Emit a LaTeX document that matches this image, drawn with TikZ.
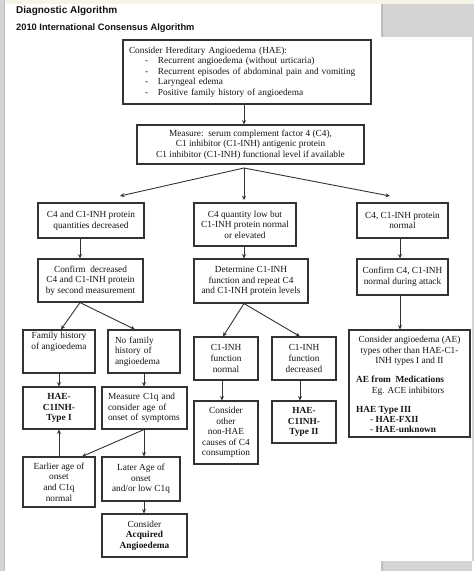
\documentclass[tikz,border=0pt]{standalone}
\usepackage{fontspec}
\setmainfont{Liberation Serif}
\newfontfamily\hdfont{Liberation Sans}
\usetikzlibrary{arrows.meta}
\definecolor{lnc}{HTML}{333333}
\definecolor{txc}{HTML}{141414}
\definecolor{frc}{HTML}{D4D4D4}
\definecolor{frd}{HTML}{BDBDBD}
\definecolor{crc}{HTML}{F6F4E6}
\begin{document}
\begin{tikzpicture}[x=1pt,y=-1pt,
  box/.style={draw=lnc, line width=1.1pt, inner sep=0pt, align=center, text=txc,
              font=\fontsize{9.3}{10.6}\selectfont},
  txt/.style={inner sep=0pt, text=txc, font=\fontsize{9.3}{10.6}\selectfont},
  arr/.style={draw=lnc, line width=0.9pt, -{Stealth[length=4.4pt,width=4pt]}},
  ttl/.style={anchor=base west, inner sep=0pt, text=txc}]
\useasboundingbox (0,0) rectangle (474,571);
% frame / background
\fill[white] (0,0) rectangle (474,571);
\fill[crc] (0,0) rectangle (474,3.5);
\fill[frc] (0,0) rectangle (5,571);
\fill[frd] (4,0) rectangle (5,571);
\fill[frc] (381,4) rectangle (474,37);
\fill[frd] (381,4) rectangle (382.5,37);
\fill[frc] (472,37) rectangle (474,561);
\fill[frc] (381,561) rectangle (472,571);
\fill[frd] (381,561) rectangle (382.5,571);
% titles
\node[ttl, font=\hdfont\bfseries\fontsize{10}{12}\selectfont] (t1) at (16,13.5) {Diagnostic Algorithm};
\node[ttl, font=\hdfont\bfseries\fontsize{9.3}{11}\selectfont] (t2) at (16,30.7) {2010 International Consensus Algorithm};
% top box
\node[box, minimum width=248pt, minimum height=64pt, text width=236pt, inner xsep=6pt, align=left] (hae) at (247,72)
 {Consider Hereditary Angioedema (HAE):\\
  \makebox[29pt][l]{\hspace*{16pt}-}Recurrent angioedema (without urticaria)\\
  \makebox[29pt][l]{\hspace*{16pt}-}Recurrent episodes of abdominal pain and vomiting\\
  \makebox[29pt][l]{\hspace*{16pt}-}Laryngeal edema\\
  \makebox[29pt][l]{\hspace*{16pt}-}Positive family history of angioedema};
\node[box, minimum width=227pt, minimum height=39pt] (meas) at (250.5,144.5)
 {Measure:\ \ serum complement factor 4 (C4),\\
  C1 inhibitor (C1-INH) antigenic protein\\
  C1 inhibitor (C1-INH) functional level if available};
% row 3
\node[box, minimum width=106pt, minimum height=35pt] (a1) at (91,220.5) {C4 and C1-INH protein\\ quantities decreased};
\node[box, minimum width=102pt, minimum height=43pt] (a2) at (245,224.5) {C4 quantity low but\\ C1-INH protein normal\\ or elevated};
\node[box, minimum width=91pt, minimum height=35pt] (a3) at (402.5,220.5) {C4, C1-INH protein\\ normal};
% row 4
\node[box, minimum width=105pt, minimum height=43pt] (b1) at (90.5,280.5) {Confirm\ \ decreased\\ C4 and C1-INH protein\\ by second measurement};
\node[box, minimum width=114pt, minimum height=44pt] (b2) at (251,281) {Determine C1-INH\\ function and repeat C4\\ and C1-INH protein levels};
\node[box, minimum width=91pt, minimum height=36pt] (b3) at (402.5,277) {Confirm C4, C1-INH\\ normal during attack};
% row 5
\node[box, minimum width=72pt, minimum height=43pt] (c1) at (59,351.5) {Family history\\ of angioedema\\[10.6pt]};
\node[box, minimum width=72pt, minimum height=43pt, text width=58pt, inner xsep=7pt, align=left] (c2) at (144,351.5) {No family\\ history of\\ angioedema};
\node[box, minimum width=64pt, minimum height=43pt] (c3) at (226,358.5) {C1-INH\\ function\\ normal};
\node[box, minimum width=64pt, minimum height=43pt] (c4) at (304,358.5) {C1-INH\\ function\\ decreased};
\node[box, minimum width=121pt, minimum height=107pt] (c5) at (409.5,383.5) {};
\node[txt, anchor=base] (c5a) at (409.5,342.5) {Consider angioedema (AE)};
\node[txt, anchor=base] (c5b) at (409.5,353.2) {types other than HAE-C1-};
\node[txt, anchor=base] (c5c) at (409.5,363.9) {INH types I and II};
\node[txt, anchor=base west, font=\bfseries\fontsize{9.3}{10.6}\selectfont] (c5d) at (356,382.5) {AE from\ \ Medications};
\node[txt, anchor=base west] (c5e) at (371.7,393.5) {Eg. ACE inhibitors};
\node[txt, anchor=base west, font=\bfseries\fontsize{9.3}{10.6}\selectfont] (c5f) at (356,412.2) {HAE Type III};
\node[txt, anchor=base west, font=\bfseries\fontsize{9.3}{10.6}\selectfont] (c5g) at (370,422.9) {- HAE-FXII};
\node[txt, anchor=base west, font=\bfseries\fontsize{9.3}{10.6}\selectfont] (c5h) at (370,432.5) {- HAE-unknown};
% row 6
\node[box, minimum width=72pt, minimum height=42pt, font=\bfseries\fontsize{9.3}{10.8}\selectfont] (d1) at (59,408) {HAE-\\ C1INH-\\ Type I};
\node[box, minimum width=85pt, minimum height=42pt, text width=73pt, inner xsep=6pt, align=left] (d2) at (144.5,408) {Measure C1q and\\ consider age of\\ onset of symptoms};
\node[box, minimum width=64pt, minimum height=63pt] (d3) at (226,432.5) {Consider\\ other\\ non-HAE\\ causes of C4\\ consumption};
\node[box, minimum width=64pt, minimum height=42pt, font=\bfseries\fontsize{9.3}{10.8}\selectfont] (d4) at (304,422) {HAE-\\ C1INH-\\ Type II};
% row 7
\node[box, minimum width=72pt, minimum height=50pt] (e1) at (59,482) {Earlier age of\\ onset\\ and C1q\\ normal};
\node[box, minimum width=78pt, minimum height=44pt] (e2) at (141,479) {Later Age of\\ onset\\ and/or low C1q};
\node[box, minimum width=85pt, minimum height=43pt] (f1) at (144.5,535.5) {Consider\\ \textbf{Acquired}\\ \textbf{Angioedema}};
% helper coordinates
\coordinate (x59) at (59,0);
\coordinate (x80) at (80,0);
\coordinate (x144) at (144,0);
\coordinate (x222) at (222,0);
\coordinate (x244) at (244,0);
\coordinate (x300) at (300,0);
\coordinate (x400) at (400,0);
\coordinate (f0) at (244,168);
\coordinate (ft1) at (120,196);
\coordinate (ft2) at (244,200);
\coordinate (ft3) at (390,196);
\coordinate (g1) at (61,329.5);
\coordinate (g2) at (135,329.5);
\coordinate (h1) at (223,336.5);
\coordinate (h2) at (300,336.5);
\coordinate (k1) at (82,456.5);
% connectors
\draw[arr] (hae.south -| x244) -- (meas.north -| x244);
\draw[arr] (f0) -- (ft1);
\draw[arr] (f0) -- (ft2);
\draw[arr] (f0) -- (ft3);
\draw[arr] (a1.south -| x80) -- (b1.north -| x80);
\draw[arr] (a2.south -| x244) -- (b2.north -| x244);
\draw[arr] (a3.south -| x400) -- (b3.north -| x400);
\draw[arr] (b1.south -| x80) -- (g1);
\draw[arr] (b1.south -| x80) -- (g2);
\draw[arr] (b2.south -| x244) -- (h1);
\draw[arr] (b2.south -| x244) -- (h2);
\draw[arr] (b3.south -| x400) -- (c5.north -| x400);
\draw[arr] (c1.south -| x59) -- (d1.north -| x59);
\draw[arr] (c2.south -| x144) -- (d2.north -| x144);
\draw[arr] (c3.south -| x222) -- (d3.north -| x222);
\draw[arr] (c4.south -| x300) -- (d4.north -| x300);
\draw[arr] (d2.south -| x144) -- (k1);
\draw[arr] (d2.south -| x144) -- (e2.north -| x144);
\draw[arr] (e1.north -| x59) -- (d1.south -| x59);
\draw[arr] (e2.south -| x144) -- (f1.north -| x144);
\end{tikzpicture}
\end{document}
